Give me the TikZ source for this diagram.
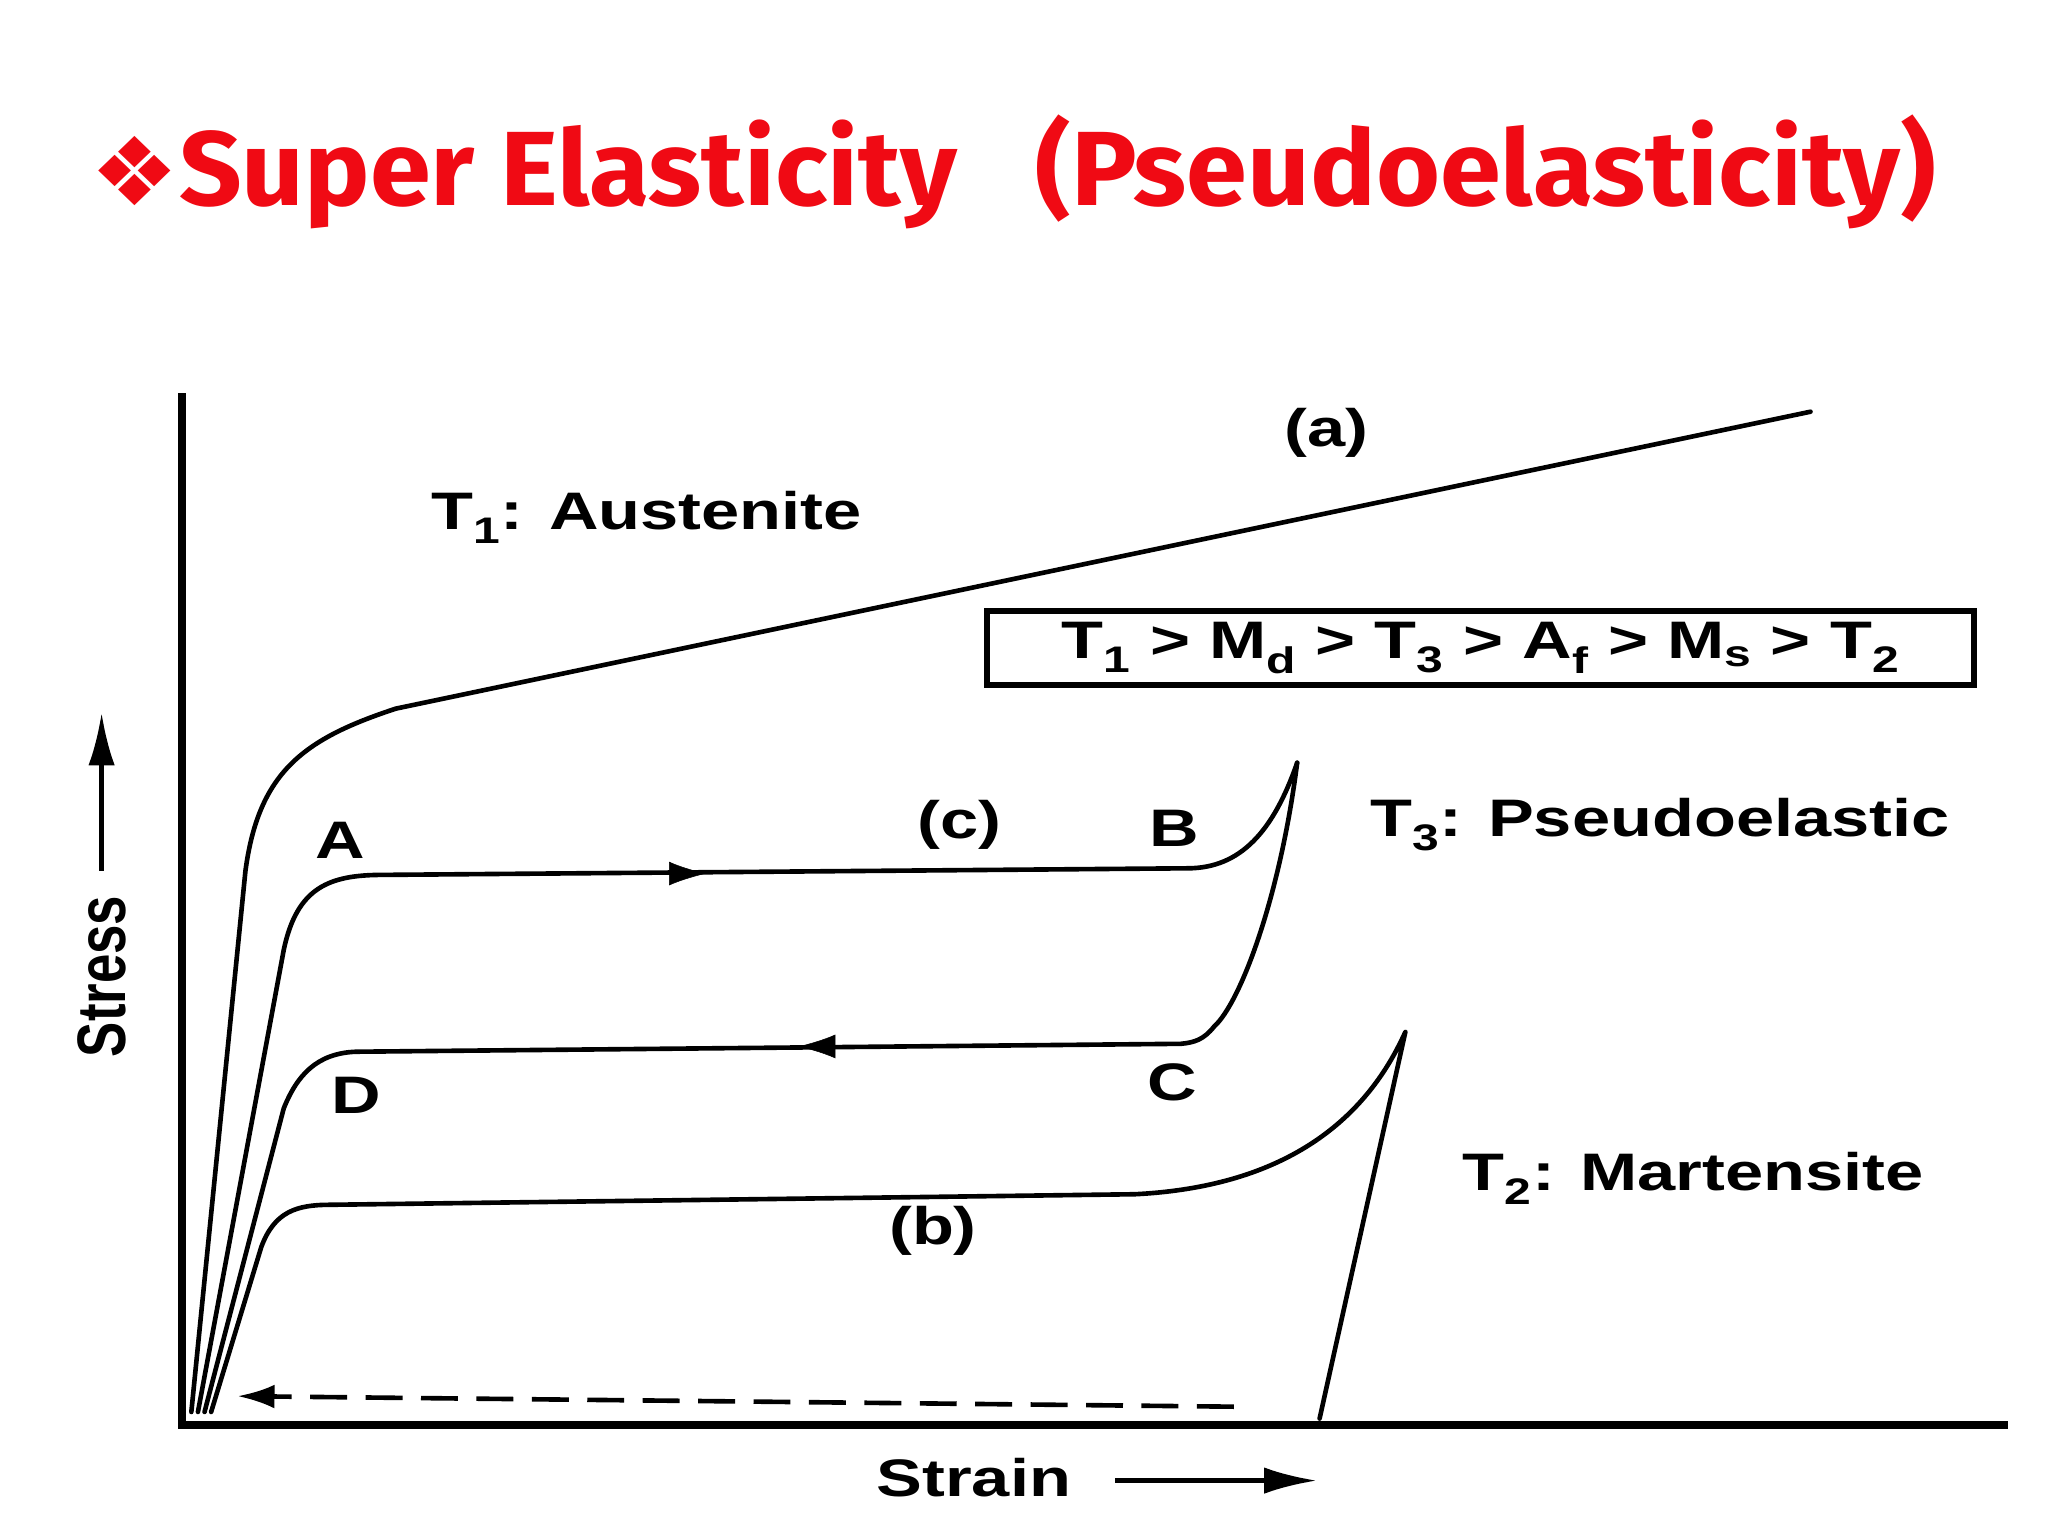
\documentclass[tikz,border=0pt]{standalone}
\usepackage{fontspec}
\setmainfont{Liberation Sans}
\newfontfamily\titlefont{Fira Sans}
\newfontfamily\symfont{DejaVu Sans}
\usetikzlibrary{arrows.meta}
\definecolor{tred}{RGB}{240,10,20}
\tikzset{curve/.style={line width=3.5pt,line cap=round,line join=round},
 lbl/.style={font=\fontsize{40}{42}\selectfont\bfseries,xscale=1.3},
 mid/.style={-{Latex[length=28pt,width=18pt]}}}
\begin{document}
\begin{tikzpicture}[x=1pt,y=-1pt]
\useasboundingbox (0,0) rectangle (1552,1164);
\node[text=tred,font=\fontsize{80}{90}\selectfont\bfseries,xscale=1.04] (title) at (768,130) {{\symfont\fontsize{72}{80}\selectfont ❖}\titlefont Super Elasticity\ \ \ (Pseudoelasticity)};
% axes
\draw[line width=6pt] (138,298) -- (138,1080) -- (1522,1080);
% (a)
\draw[curve] (145,1070) -- (186,660) .. controls (196,585) and (230,560) .. (300,537) -- (1372,312);
% (c)
\draw[curve] (150,1070) -- (215,720) .. controls (225,672) and (250,663) .. (290,663) -- (900,658) .. controls (940,658) and (965,630) .. (983,578);
\draw[curve] (983,578) .. controls (970,680) and (940,760) .. (920,778) .. controls (912,788) and (905,790) .. (895,791) -- (270,797) .. controls (240,798) and (225,815) .. (215,840) -- (155,1070);
\draw[mid] (500,662) -- (535,662);
\draw[mid] (640,793) -- (605,793);
% (b)
\draw[curve] (160,1070) -- (198,945) .. controls (208,918) and (225,913) .. (250,913) -- (860,905) .. controls (960,900) and (1030,860) .. (1065,782) -- (1000,1075);
\draw[line width=3.5pt,dash pattern=on 28pt off 14pt,-{Latex[length=28pt,width=18pt]}] (935,1066) -- (180,1058);
% labels
\node[lbl] (ta) at (490,392) {T\textsubscript{1}: Austenite};
\node[lbl] (la) at (1005,328) {(a)};
\draw[line width=4pt] (748,463) rectangle (1496,519);
\node[lbl] (box) at (1122,491) {T\textsubscript{1} > M\textsubscript{d} > T\textsubscript{3} > A\textsubscript{f} > M\textsubscript{s} > T\textsubscript{2}};
\node[lbl] (A) at (258,637) {A};
\node[lbl] (lc) at (727,625) {(c)};
\node[lbl] (B) at (890,628) {B};
\node[lbl] (t3) at (1258,625) {T\textsubscript{3}: Pseudoelastic};
\node[lbl] (D) at (270,830) {D};
\node[lbl] (C) at (888,820) {C};
\node[lbl] (t2) at (1283,893) {T\textsubscript{2}: Martensite};
\node[lbl] (lb) at (707,933) {(b)};
\node[lbl] (strain) at (738,1120) {Strain};
\coordinate (s1) at (845,1122); \coordinate (s2) at (998,1122);
\draw[line width=3.5pt,-{Latex[length=40pt,width=20pt]}] (s1) -- (s2);
\node[font=\fontsize{40}{42}\selectfont\bfseries,rotate=90,yscale=1.3] (stress) at (77,740) {Stress};
\coordinate (r1) at (77,660); \coordinate (r2) at (77,540);
\draw[line width=3.5pt,-{Latex[length=40pt,width=20pt]}] (r1) -- (r2);
\end{tikzpicture}
\end{document}
